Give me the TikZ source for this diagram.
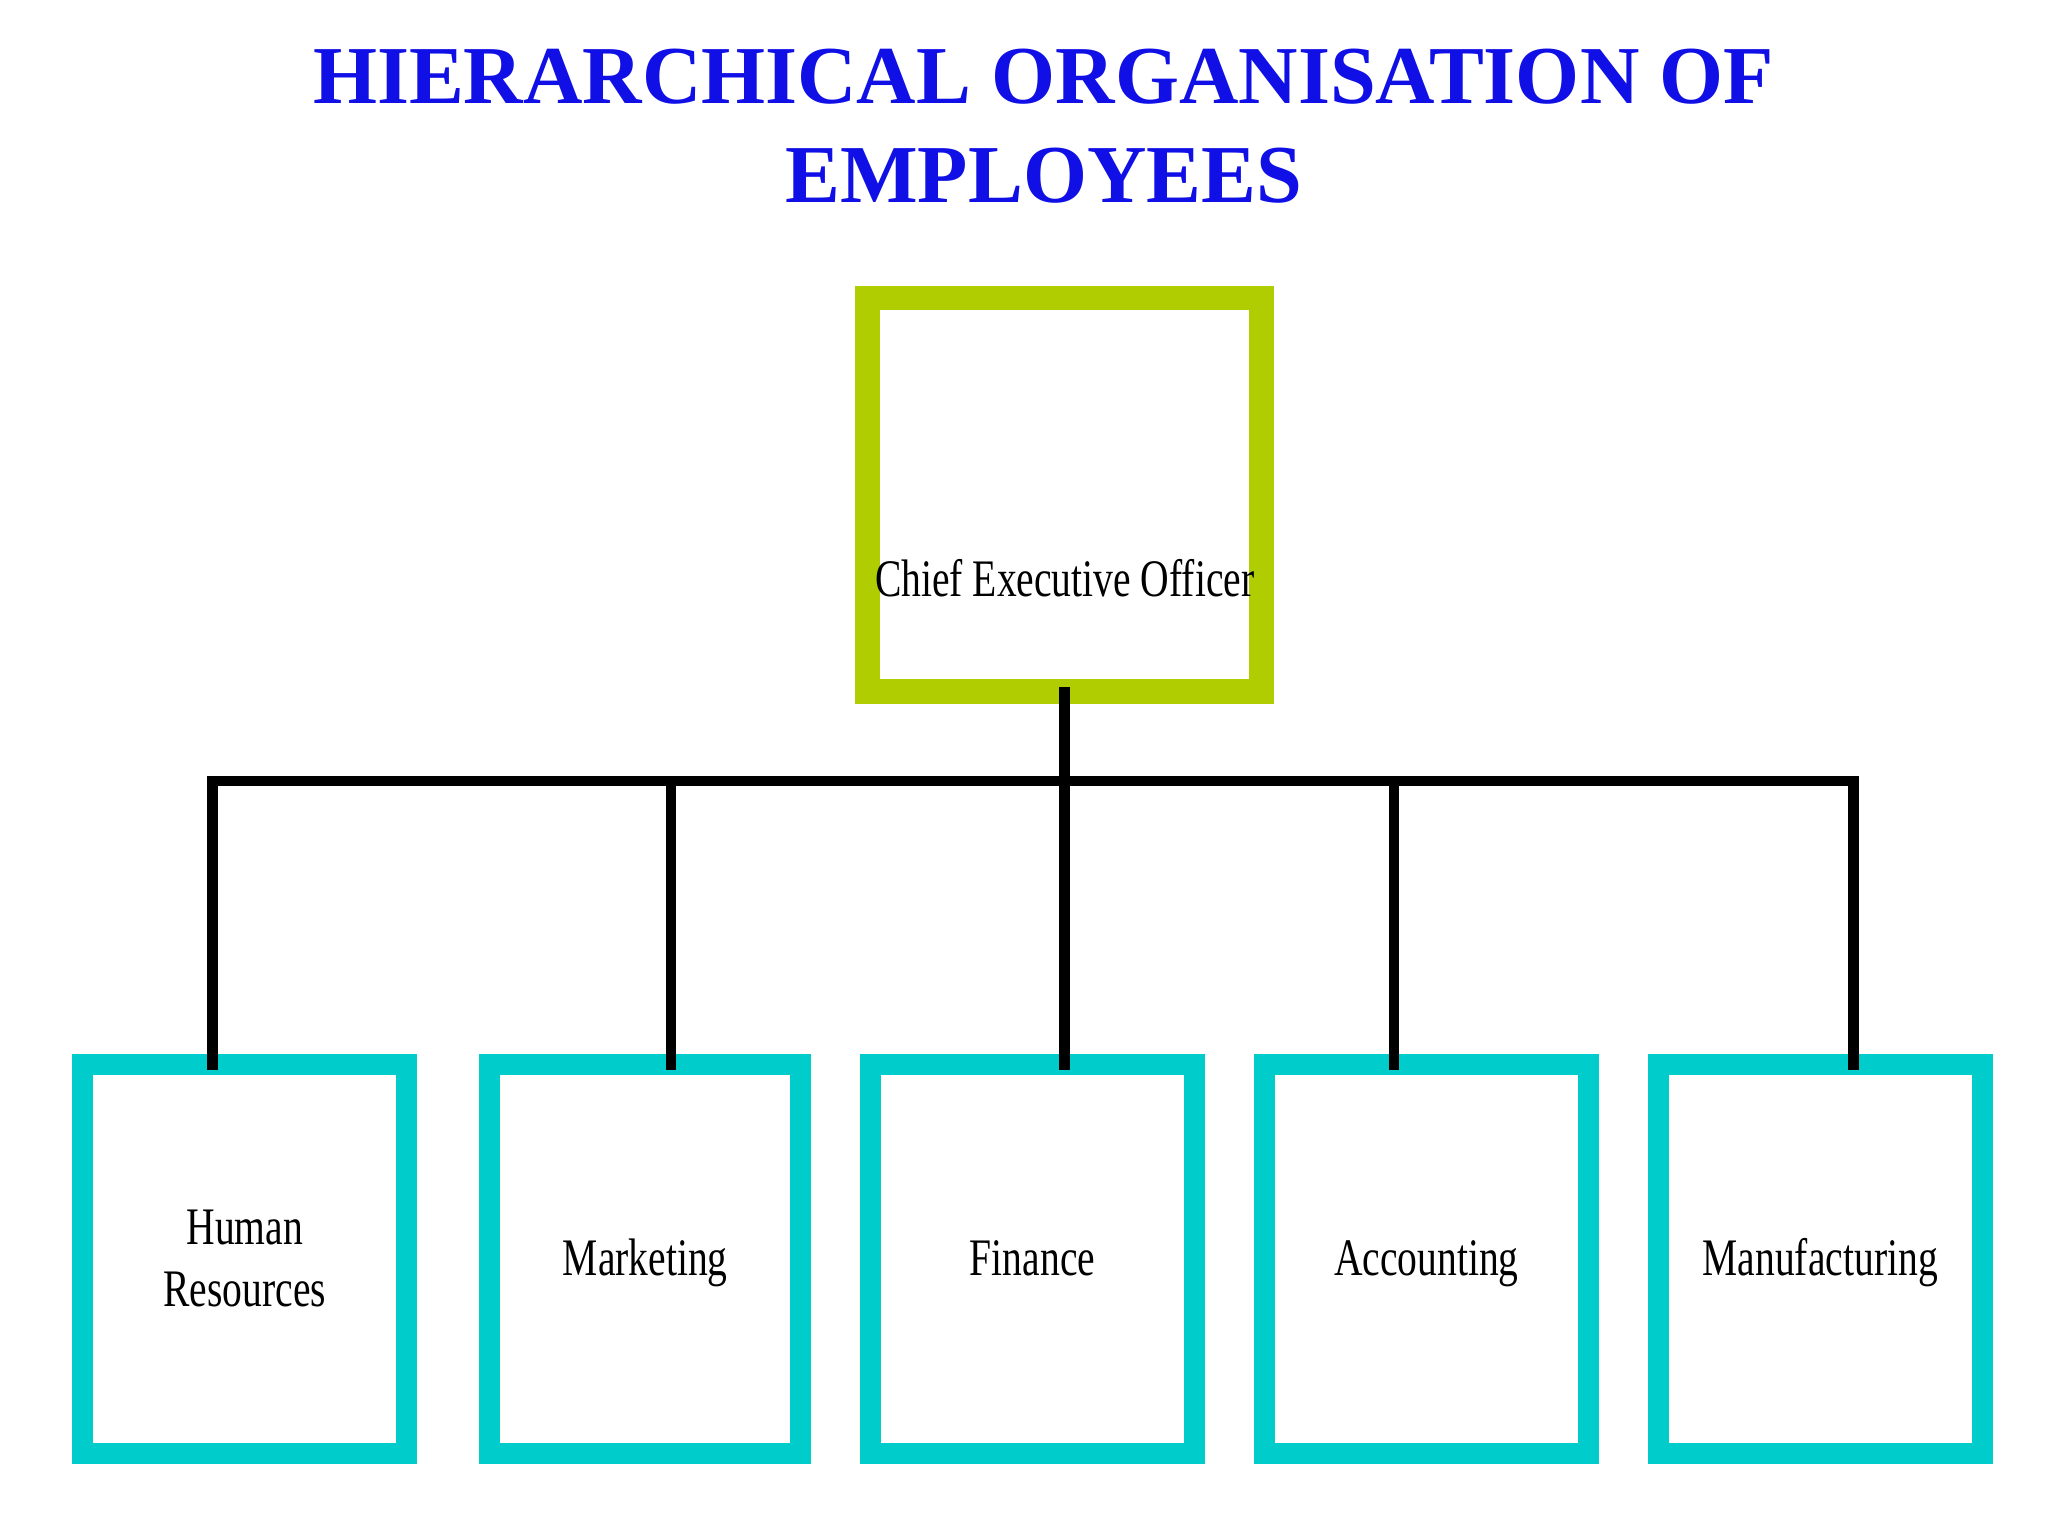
\documentclass[tikz,border=0pt]{standalone}
\usepackage{fontspec}
\setmainfont{Liberation Serif}
\definecolor{titleblue}{RGB}{16,16,230}
\definecolor{ceogreen}{RGB}{175,205,0}
\definecolor{deptcyan}{RGB}{0,204,204}
\newcommand{\cond}[1]{\scalebox{0.75}[1]{\fontsize{15}{17.5}\selectfont\begin{tabular}{@{}c@{}}#1\end{tabular}}}
\begin{document}
\begin{tikzpicture}[x=0.013128cm,y=-0.013128cm,
  ceobox/.style={draw=ceogreen,line width=19*0.013128cm},
  deptbox/.style={draw=deptcyan,line width=16*0.013128cm},
  conn/.style={line width=8*0.013128cm,line cap=rect}]
\useasboundingbox (0,0) rectangle (1560,1170);
\node[text=titleblue,font=\bfseries\fontsize{23.4}{28}\selectfont,align=center] (title) at (795,96) {HIERARCHICAL ORGANISATION OF\\EMPLOYEES};
\draw[ceobox] (661,227) rectangle (961,527);
\node (ceo) at (811,445) {\cond{Chief Executive Officer}};
\coordinate (ceob) at (811,527);
\coordinate (bus) at (811,595);
\coordinate (busl) at (162,595);
\coordinate (busr) at (1412,595);
\draw[conn] (ceob) -- (bus);
\draw[conn] (busl) -- (busr);
\foreach \n/\l/\r/\cx/\t in {hr/63/310/162/{Human\\Resources},mk/373/610/511/Marketing,fi/663/910/811/Finance,ac/963/1210/1062/Accounting,mf/1263/1510/1412/Manufacturing}{
  \draw[deptbox] (\l,811) rectangle (\r,1107);
  \node (\n) at ({(\l+\r)/2},962) {\cond{\t}};
  \coordinate (\n top) at (\cx,811);
  \coordinate (\n bus) at (\cx,595);
  \draw[conn] (\n bus) -- (\n top);
}
\end{tikzpicture}
\end{document}
